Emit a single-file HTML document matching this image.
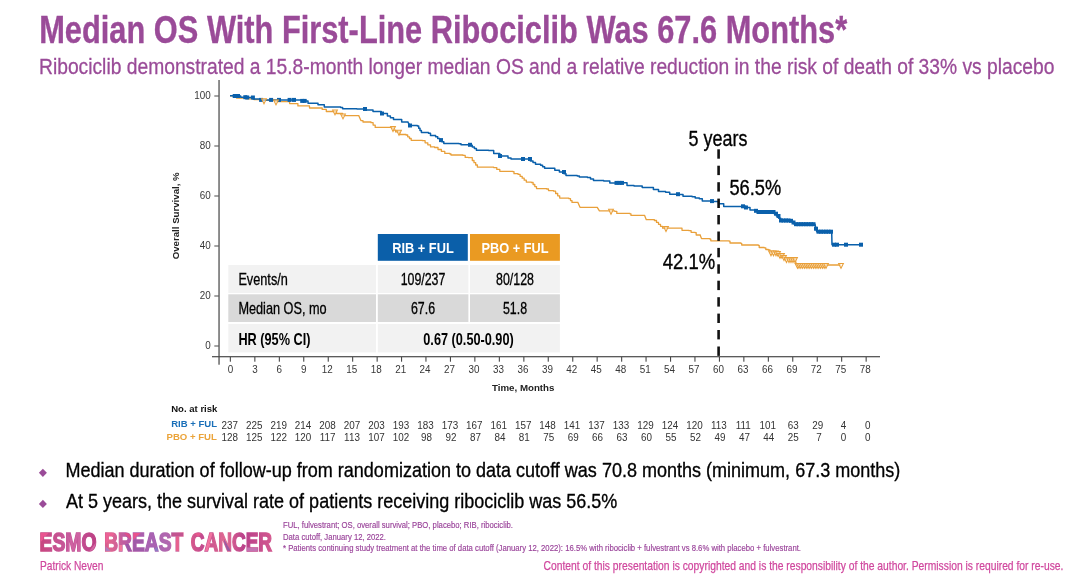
<!DOCTYPE html>
<html><head><meta charset="utf-8"><title>Median OS With First-Line Ribociclib</title>
<style>
html,body{margin:0;padding:0;background:#fff;}
body{width:1080px;height:581px;overflow:hidden;position:relative;font-family:"Liberation Sans",sans-serif;}
svg{display:block;will-change:transform;opacity:0.999}
svg text{font-family:"Liberation Sans",sans-serif;white-space:pre}
</style></head><body>
<svg width="1080" height="581" viewBox="0 0 1080 581" style="position:absolute;left:0;top:0">
<rect x="377.8" y="234" width="90" height="26.8" fill="#0b5fa9"/>
<rect x="470" y="234" width="89.9" height="26.8" fill="#ea9a22"/>
<rect x="228.3" y="265.0" width="147.7" height="28.0" fill="#f2f2f2"/>
<rect x="228.3" y="294.3" width="147.7" height="27.7" fill="#d9d9d9"/>
<rect x="228.3" y="324.0" width="147.7" height="28.4" fill="#f2f2f2"/>
<rect x="377.8" y="265.0" width="90.6" height="28.0" fill="#f2f2f2"/>
<rect x="470" y="265.0" width="89.9" height="28.0" fill="#f2f2f2"/>
<rect x="377.8" y="294.3" width="90.6" height="27.7" fill="#d9d9d9"/>
<rect x="470" y="294.3" width="89.9" height="27.7" fill="#d9d9d9"/>
<rect x="377.8" y="324.0" width="182.1" height="28.4" fill="#f2f2f2"/>
<rect x="218.2" y="80" width="1.7" height="284.7" fill="#7a7a7a"/>
<rect x="212" y="356.1" width="668" height="1.2" fill="#4a4a4a"/>
<rect x="214.3" y="95.5" width="4.5" height="1" fill="#4a4a4a"/>
<rect x="214.3" y="145.5" width="4.5" height="1" fill="#4a4a4a"/>
<rect x="214.3" y="195.5" width="4.5" height="1" fill="#4a4a4a"/>
<rect x="214.3" y="245.5" width="4.5" height="1" fill="#4a4a4a"/>
<rect x="214.3" y="295.5" width="4.5" height="1" fill="#4a4a4a"/>
<rect x="214.3" y="345.5" width="4.5" height="1" fill="#4a4a4a"/>
<rect x="229.8" y="357" width="1.1" height="4.7" fill="#484848"/>
<rect x="254.3" y="357" width="1.1" height="4.7" fill="#484848"/>
<rect x="278.8" y="357" width="1.1" height="4.7" fill="#484848"/>
<rect x="303.2" y="357" width="1.1" height="4.7" fill="#484848"/>
<rect x="327.7" y="357" width="1.1" height="4.7" fill="#484848"/>
<rect x="352.1" y="357" width="1.1" height="4.7" fill="#484848"/>
<rect x="376.6" y="357" width="1.1" height="4.7" fill="#484848"/>
<rect x="401.0" y="357" width="1.1" height="4.7" fill="#484848"/>
<rect x="425.4" y="357" width="1.1" height="4.7" fill="#484848"/>
<rect x="449.9" y="357" width="1.1" height="4.7" fill="#484848"/>
<rect x="474.3" y="357" width="1.1" height="4.7" fill="#484848"/>
<rect x="498.8" y="357" width="1.1" height="4.7" fill="#484848"/>
<rect x="523.3" y="357" width="1.1" height="4.7" fill="#484848"/>
<rect x="547.7" y="357" width="1.1" height="4.7" fill="#484848"/>
<rect x="572.2" y="357" width="1.1" height="4.7" fill="#484848"/>
<rect x="596.6" y="357" width="1.1" height="4.7" fill="#484848"/>
<rect x="621.1" y="357" width="1.1" height="4.7" fill="#484848"/>
<rect x="645.5" y="357" width="1.1" height="4.7" fill="#484848"/>
<rect x="670.0" y="357" width="1.1" height="4.7" fill="#484848"/>
<rect x="694.4" y="357" width="1.1" height="4.7" fill="#484848"/>
<rect x="718.9" y="357" width="1.1" height="4.7" fill="#484848"/>
<rect x="743.3" y="357" width="1.1" height="4.7" fill="#484848"/>
<rect x="767.8" y="357" width="1.1" height="4.7" fill="#484848"/>
<rect x="792.2" y="357" width="1.1" height="4.7" fill="#484848"/>
<rect x="816.7" y="357" width="1.1" height="4.7" fill="#484848"/>
<rect x="841.1" y="357" width="1.1" height="4.7" fill="#484848"/>
<rect x="865.6" y="357" width="1.1" height="4.7" fill="#484848"/>
<path d="M230.0 95.8L236.5 95.8L236.5 98.1L247.0 98.1L247.0 98.8L254.0 98.8L254.0 99.6L261.0 99.6L261.0 100.4L275.4 100.4L275.4 101.6L289.6 101.6L289.6 103.6L297.9 103.6L297.9 105.9L309.5 105.9L309.5 108.0L322.2 108.0L322.2 109.4L326.3 109.4L326.3 111.5L336.5 111.5L336.5 113.5L342.6 113.5L342.6 115.6L358.9 115.6L358.9 116.0L360.9 120.6L363.0 120.6L363.0 122.0L371.0 122.0L371.0 122.7L373.1 122.7L373.1 125.1L375.2 125.1L375.2 127.4L391.5 127.4L391.5 128.2L393.6 128.2L393.6 130.1L395.6 130.1L395.6 131.9L399.6 131.9L399.6 134.5L406.0 134.5L406.0 135.0L407.7 135.0L407.7 136.8L409.5 136.8L409.5 138.5L411.2 138.5L411.2 140.3L422.4 140.3L422.4 140.7L425.1 140.7L425.1 142.8L427.8 142.8L427.8 144.8L430.5 144.8L430.5 146.9L434.6 146.9L434.6 147.5L438.0 147.5L438.0 149.5L441.4 149.5L441.4 151.4L444.8 151.4L444.8 153.4L449.9 153.4L449.9 154.0L451.0 154.0L451.0 155.0L463.0 155.0L463.0 155.4L465.2 155.4L465.2 157.4L468.2 157.4L468.2 157.6L472.3 157.6L472.3 160.5L474.0 160.5L474.0 162.7L475.7 162.7L475.7 165.0L477.4 165.0L477.4 167.2L493.7 167.2L493.7 167.6L496.8 167.6L496.8 169.4L499.8 169.4L499.8 171.3L513.0 171.3L513.0 171.7L514.0 171.7L514.0 173.7L518.1 173.7L518.1 174.4L520.1 174.4L520.1 176.3L522.2 176.3L522.2 178.2L524.2 178.2L524.2 180.2L526.3 180.2L526.3 182.1L531.4 182.1L531.4 182.5L533.1 182.5L533.1 184.5L534.8 184.5L534.8 186.6L536.5 186.6L536.5 188.6L546.7 188.6L546.7 189.0L548.5 189.0L548.5 190.6L553.6 190.6L553.6 191.2L555.6 191.2L555.6 193.5L557.7 193.5L557.7 195.8L559.7 195.8L559.7 198.1L568.9 198.1L568.9 198.7L570.5 198.7L570.5 200.6L572.0 200.6L572.0 202.4L578.0 202.4L578.0 202.8L580.0 207.3L597.4 207.3L597.4 207.7L599.4 210.9L614.7 210.9L614.7 211.3L616.8 211.3L616.8 213.4L630.0 213.4L630.0 213.8L631.0 213.8L631.0 215.4L644.7 215.4L644.7 215.8L646.3 219.7L654.4 219.7L654.4 220.5L656.5 220.5L656.5 222.4L658.5 222.4L658.5 224.3L660.5 224.3L660.5 226.3L662.6 226.3L662.6 228.2L680.9 228.2L680.9 228.2L682.0 228.2L682.0 230.3L689.0 230.3L689.0 230.7L691.1 230.7L691.1 232.3L695.2 232.3L695.2 232.7L696.2 232.7L696.2 235.0L700.3 235.0L700.3 235.4L701.5 238.6L710.0 238.6L710.0 239.2L710.8 239.2L710.8 240.8L729.2 240.8L729.2 241.2L730.0 241.2L730.0 243.0L740.8 243.0L740.8 243.3L741.7 243.3L741.7 245.0L758.3 245.0L758.3 245.3L759.2 245.3L759.2 247.5L764.2 247.5L764.2 247.8L765.8 247.8L765.8 249.5L768.3 249.5L768.3 250.0L770.0 250.0L770.0 252.5L776.7 252.5L776.7 253.0L779.2 253.0L779.2 255.0L783.3 255.0L783.3 255.8L785.0 259.2L795.0 259.2L795.0 259.7L796.7 265.0L840.8 265.0L840.8 265.0" fill="none" stroke="#e9a03a" stroke-width="1.3" stroke-linejoin="round"/>
<path d="M230.0 95.8L233.0 95.8L233.0 96.0L240.7 96.0L240.7 97.2L246.0 97.2L246.0 97.5L253.0 97.5L253.0 98.9L261.0 98.9L261.0 99.9L289.6 99.9L289.6 99.9L301.9 99.9L301.9 100.9L308.0 100.9L308.0 103.3L318.0 103.3L318.0 104.8L324.3 104.8L324.3 107.0L340.6 107.0L340.6 107.4L342.6 107.4L342.6 108.8L356.9 108.8L356.9 109.0L365.0 109.0L365.0 110.0L373.0 110.0L373.0 111.5L381.3 111.5L381.3 113.5L387.4 113.5L387.4 116.0L390.4 116.0L390.4 117.8L393.5 117.8L393.5 119.6L401.7 119.6L401.7 122.0L408.0 122.0L408.0 122.4L410.0 125.5L417.3 125.5L417.3 126.0L418.7 126.0L418.7 128.2L420.0 128.2L420.0 130.4L421.4 130.4L421.4 132.6L428.5 132.6L428.5 133.2L430.5 133.2L430.5 135.6L435.6 135.6L435.6 136.7L437.7 136.7L437.7 138.4L439.7 138.4L439.7 140.1L441.8 140.1L441.8 141.8L443.8 141.8L443.8 143.4L459.0 143.4L459.0 143.8L461.0 143.8L461.0 144.8L470.3 144.8L470.3 145.2L472.3 145.2L472.3 146.9L474.4 146.9L474.4 148.6L476.4 148.6L476.4 150.3L488.6 150.3L488.6 150.5L493.7 150.5L493.7 153.4L499.8 153.4L499.8 156.0L508.0 156.0L508.0 158.0L511.0 158.0L511.0 159.0L523.2 159.0L523.2 159.0L530.4 159.0L530.4 161.0L533.0 161.0L533.0 162.6L535.5 162.6L535.5 164.2L540.6 164.2L540.6 165.2L542.6 165.2L542.6 166.7L544.6 166.7L544.6 168.2L554.8 168.2L554.8 170.3L559.4 170.3L559.4 172.0L564.0 172.0L564.0 173.7L566.0 173.7L566.0 175.4L577.2 175.4L577.2 176.0L579.3 176.0L579.3 177.0L587.4 177.0L587.4 177.4L590.5 177.4L590.5 178.9L593.5 178.9L593.5 180.5L603.7 180.5L603.7 180.9L609.8 180.9L609.8 182.9L623.9 182.9L623.9 182.8L627.0 182.8L627.0 185.5L634.0 185.5L634.0 186.0L642.2 186.0L642.2 187.5L653.4 187.5L653.4 189.5L658.5 189.5L658.5 191.6L665.6 191.6L665.6 192.2L669.7 192.2L669.7 194.2L678.9 194.2L678.9 194.6L683.0 194.6L683.0 196.3L692.1 196.3L692.1 196.7L695.2 196.7L695.2 198.1L699.3 198.1L699.3 198.7L702.3 198.7L702.3 201.1L712.5 201.1L712.5 201.4L718.6 201.4L718.6 203.8L723.7 203.8L723.7 206.4L742.5 206.4L742.5 206.3L745.8 206.3L745.8 207.5L750.0 207.5L750.0 210.0L755.8 210.0L755.8 210.8L758.3 210.8L758.3 212.0L772.5 212.0L772.5 212.0L774.2 212.0L774.2 213.7L776.4 213.7L776.4 216.0L778.6 216.0L778.6 218.2L780.8 218.2L780.8 220.5L790.8 220.5L790.8 220.8L792.5 220.8L792.5 222.5L794.2 222.5L794.2 224.2L815.0 224.2L815.0 224.5L816.7 231.7L831.7 231.7L831.7 232.0L832.0 244.7L860.8 244.7L860.8 244.7" fill="none" stroke="#0a60ab" stroke-width="1.5" stroke-linejoin="round"/>
<rect x="232.7" y="94.0" width="4" height="4" fill="#0a60ab"/>
<rect x="236.0" y="94.0" width="4" height="4" fill="#0a60ab"/>
<rect x="243.3" y="95.2" width="4" height="4" fill="#0a60ab"/>
<rect x="245.2" y="95.5" width="4" height="4" fill="#0a60ab"/>
<rect x="250.9" y="95.5" width="4" height="4" fill="#0a60ab"/>
<rect x="259.1" y="97.9" width="4" height="4" fill="#0a60ab"/>
<rect x="269.1" y="97.9" width="4" height="4" fill="#0a60ab"/>
<rect x="277.0" y="97.9" width="4" height="4" fill="#0a60ab"/>
<rect x="287.6" y="97.9" width="4" height="4" fill="#0a60ab"/>
<rect x="292.0" y="97.9" width="4" height="4" fill="#0a60ab"/>
<rect x="300.2" y="98.9" width="4" height="4" fill="#0a60ab"/>
<rect x="302.7" y="98.9" width="4" height="4" fill="#0a60ab"/>
<rect x="363.0" y="107.0" width="4" height="4" fill="#0a60ab"/>
<rect x="380.0" y="111.5" width="4" height="4" fill="#0a60ab"/>
<rect x="408.0" y="123.5" width="4" height="4" fill="#0a60ab"/>
<rect x="439.0" y="138.1" width="4" height="4" fill="#0a60ab"/>
<rect x="468.0" y="142.8" width="4" height="4" fill="#0a60ab"/>
<rect x="498.0" y="154.0" width="4" height="4" fill="#0a60ab"/>
<rect x="521.0" y="157.0" width="4" height="4" fill="#0a60ab"/>
<rect x="528.0" y="157.0" width="4" height="4" fill="#0a60ab"/>
<rect x="562.0" y="170.0" width="4" height="4" fill="#0a60ab"/>
<rect x="614.5" y="180.9" width="4" height="4" fill="#0a60ab"/>
<rect x="617.5" y="180.9" width="4" height="4" fill="#0a60ab"/>
<rect x="620.0" y="180.9" width="4" height="4" fill="#0a60ab"/>
<rect x="676.0" y="192.2" width="4" height="4" fill="#0a60ab"/>
<rect x="710.0" y="199.1" width="4" height="4" fill="#0a60ab"/>
<rect x="741.0" y="204.3" width="4" height="4" fill="#0a60ab"/>
<rect x="744.0" y="205.5" width="4" height="4" fill="#0a60ab"/>
<rect x="754.0" y="208.8" width="4" height="4" fill="#0a60ab"/>
<rect x="756.5" y="210.0" width="4" height="4" fill="#0a60ab"/>
<rect x="759.0" y="210.0" width="4" height="4" fill="#0a60ab"/>
<rect x="761.5" y="210.0" width="4" height="4" fill="#0a60ab"/>
<rect x="764.0" y="210.0" width="4" height="4" fill="#0a60ab"/>
<rect x="766.5" y="210.0" width="4" height="4" fill="#0a60ab"/>
<rect x="769.0" y="210.0" width="4" height="4" fill="#0a60ab"/>
<rect x="771.5" y="210.0" width="4" height="4" fill="#0a60ab"/>
<rect x="774.0" y="211.7" width="4" height="4" fill="#0a60ab"/>
<rect x="776.5" y="214.0" width="4" height="4" fill="#0a60ab"/>
<rect x="779.0" y="218.5" width="4" height="4" fill="#0a60ab"/>
<rect x="781.5" y="218.5" width="4" height="4" fill="#0a60ab"/>
<rect x="784.0" y="218.5" width="4" height="4" fill="#0a60ab"/>
<rect x="786.5" y="218.5" width="4" height="4" fill="#0a60ab"/>
<rect x="789.0" y="218.8" width="4" height="4" fill="#0a60ab"/>
<rect x="791.5" y="220.5" width="4" height="4" fill="#0a60ab"/>
<rect x="794.0" y="222.2" width="4" height="4" fill="#0a60ab"/>
<rect x="796.5" y="222.2" width="4" height="4" fill="#0a60ab"/>
<rect x="799.0" y="222.2" width="4" height="4" fill="#0a60ab"/>
<rect x="801.5" y="222.2" width="4" height="4" fill="#0a60ab"/>
<rect x="804.0" y="222.2" width="4" height="4" fill="#0a60ab"/>
<rect x="806.5" y="222.2" width="4" height="4" fill="#0a60ab"/>
<rect x="809.0" y="222.2" width="4" height="4" fill="#0a60ab"/>
<rect x="811.5" y="222.2" width="4" height="4" fill="#0a60ab"/>
<rect x="814.0" y="226.7" width="4" height="4" fill="#0a60ab"/>
<rect x="816.5" y="229.7" width="4" height="4" fill="#0a60ab"/>
<rect x="819.0" y="229.7" width="4" height="4" fill="#0a60ab"/>
<rect x="821.5" y="229.7" width="4" height="4" fill="#0a60ab"/>
<rect x="824.0" y="229.7" width="4" height="4" fill="#0a60ab"/>
<rect x="826.5" y="229.7" width="4" height="4" fill="#0a60ab"/>
<rect x="829.0" y="229.7" width="4" height="4" fill="#0a60ab"/>
<rect x="832.0" y="242.7" width="4" height="4" fill="#0a60ab"/>
<rect x="835.0" y="242.7" width="4" height="4" fill="#0a60ab"/>
<rect x="844.0" y="242.7" width="4" height="4" fill="#0a60ab"/>
<rect x="859.0" y="242.7" width="4" height="4" fill="#0a60ab"/>
<path d="M261.6 98.8h4.8l-2.4 4.9z" fill="#fff" fill-opacity="0.55" stroke="#e9a03a" stroke-width="1.05"/>
<path d="M273.6 100.0h4.8l-2.4 4.9z" fill="#fff" fill-opacity="0.55" stroke="#e9a03a" stroke-width="1.05"/>
<path d="M332.6 109.9h4.8l-2.4 4.9z" fill="#fff" fill-opacity="0.55" stroke="#e9a03a" stroke-width="1.05"/>
<path d="M340.6 114.0h4.8l-2.4 4.9z" fill="#fff" fill-opacity="0.55" stroke="#e9a03a" stroke-width="1.05"/>
<path d="M390.6 126.6h4.8l-2.4 4.9z" fill="#fff" fill-opacity="0.55" stroke="#e9a03a" stroke-width="1.05"/>
<path d="M396.6 130.3h4.8l-2.4 4.9z" fill="#fff" fill-opacity="0.55" stroke="#e9a03a" stroke-width="1.05"/>
<path d="M608.6 209.3h4.8l-2.4 4.9z" fill="#fff" fill-opacity="0.55" stroke="#e9a03a" stroke-width="1.05"/>
<path d="M663.6 226.6h4.8l-2.4 4.9z" fill="#fff" fill-opacity="0.55" stroke="#e9a03a" stroke-width="1.05"/>
<path d="M768.6 250.9h4.8l-2.4 4.9z" fill="#fff" fill-opacity="0.55" stroke="#e9a03a" stroke-width="1.05"/>
<path d="M771.1 250.9h4.8l-2.4 4.9z" fill="#fff" fill-opacity="0.55" stroke="#e9a03a" stroke-width="1.05"/>
<path d="M773.6 250.9h4.8l-2.4 4.9z" fill="#fff" fill-opacity="0.55" stroke="#e9a03a" stroke-width="1.05"/>
<path d="M775.6 251.4h4.8l-2.4 4.9z" fill="#fff" fill-opacity="0.55" stroke="#e9a03a" stroke-width="1.05"/>
<path d="M777.6 253.4h4.8l-2.4 4.9z" fill="#fff" fill-opacity="0.55" stroke="#e9a03a" stroke-width="1.05"/>
<path d="M779.6 253.4h4.8l-2.4 4.9z" fill="#fff" fill-opacity="0.55" stroke="#e9a03a" stroke-width="1.05"/>
<path d="M781.6 255.6h4.8l-2.4 4.9z" fill="#fff" fill-opacity="0.55" stroke="#e9a03a" stroke-width="1.05"/>
<path d="M784.1 257.6h4.8l-2.4 4.9z" fill="#fff" fill-opacity="0.55" stroke="#e9a03a" stroke-width="1.05"/>
<path d="M786.6 257.6h4.8l-2.4 4.9z" fill="#fff" fill-opacity="0.55" stroke="#e9a03a" stroke-width="1.05"/>
<path d="M788.6 257.6h4.8l-2.4 4.9z" fill="#fff" fill-opacity="0.55" stroke="#e9a03a" stroke-width="1.05"/>
<path d="M790.6 257.6h4.8l-2.4 4.9z" fill="#fff" fill-opacity="0.55" stroke="#e9a03a" stroke-width="1.05"/>
<path d="M792.6 257.6h4.8l-2.4 4.9z" fill="#fff" fill-opacity="0.55" stroke="#e9a03a" stroke-width="1.05"/>
<path d="M795.1 263.4h4.8l-2.4 4.9z" fill="#fff" fill-opacity="0.55" stroke="#e9a03a" stroke-width="1.05"/>
<path d="M796.6 263.4h4.8l-2.4 4.9z" fill="#fff" fill-opacity="0.55" stroke="#e9a03a" stroke-width="1.05"/>
<path d="M798.4 263.4h4.8l-2.4 4.9z" fill="#fff" fill-opacity="0.55" stroke="#e9a03a" stroke-width="1.05"/>
<path d="M800.2 263.4h4.8l-2.4 4.9z" fill="#fff" fill-opacity="0.55" stroke="#e9a03a" stroke-width="1.05"/>
<path d="M802.0 263.4h4.8l-2.4 4.9z" fill="#fff" fill-opacity="0.55" stroke="#e9a03a" stroke-width="1.05"/>
<path d="M803.8 263.4h4.8l-2.4 4.9z" fill="#fff" fill-opacity="0.55" stroke="#e9a03a" stroke-width="1.05"/>
<path d="M805.6 263.4h4.8l-2.4 4.9z" fill="#fff" fill-opacity="0.55" stroke="#e9a03a" stroke-width="1.05"/>
<path d="M807.4 263.4h4.8l-2.4 4.9z" fill="#fff" fill-opacity="0.55" stroke="#e9a03a" stroke-width="1.05"/>
<path d="M809.2 263.4h4.8l-2.4 4.9z" fill="#fff" fill-opacity="0.55" stroke="#e9a03a" stroke-width="1.05"/>
<path d="M811.0 263.4h4.8l-2.4 4.9z" fill="#fff" fill-opacity="0.55" stroke="#e9a03a" stroke-width="1.05"/>
<path d="M812.8 263.4h4.8l-2.4 4.9z" fill="#fff" fill-opacity="0.55" stroke="#e9a03a" stroke-width="1.05"/>
<path d="M814.6 263.4h4.8l-2.4 4.9z" fill="#fff" fill-opacity="0.55" stroke="#e9a03a" stroke-width="1.05"/>
<path d="M816.4 263.4h4.8l-2.4 4.9z" fill="#fff" fill-opacity="0.55" stroke="#e9a03a" stroke-width="1.05"/>
<path d="M818.2 263.4h4.8l-2.4 4.9z" fill="#fff" fill-opacity="0.55" stroke="#e9a03a" stroke-width="1.05"/>
<path d="M820.0 263.4h4.8l-2.4 4.9z" fill="#fff" fill-opacity="0.55" stroke="#e9a03a" stroke-width="1.05"/>
<path d="M821.8 263.4h4.8l-2.4 4.9z" fill="#fff" fill-opacity="0.55" stroke="#e9a03a" stroke-width="1.05"/>
<path d="M823.6 263.4h4.8l-2.4 4.9z" fill="#fff" fill-opacity="0.55" stroke="#e9a03a" stroke-width="1.05"/>
<path d="M838.6 263.4h4.8l-2.4 4.9z" fill="#fff" fill-opacity="0.55" stroke="#e9a03a" stroke-width="1.05"/>
<rect x="717.3" y="149.3" width="2.6" height="9.4" fill="#111"/>
<rect x="717.3" y="165.7" width="2.6" height="9.4" fill="#111"/>
<rect x="717.3" y="182.2" width="2.6" height="9.4" fill="#111"/>
<rect x="717.3" y="198.6" width="2.6" height="9.4" fill="#111"/>
<rect x="717.3" y="215.0" width="2.6" height="9.4" fill="#111"/>
<rect x="717.3" y="231.5" width="2.6" height="9.4" fill="#111"/>
<rect x="717.3" y="247.9" width="2.6" height="9.4" fill="#111"/>
<rect x="717.3" y="264.3" width="2.6" height="9.4" fill="#111"/>
<rect x="717.3" y="280.7" width="2.6" height="9.4" fill="#111"/>
<rect x="717.3" y="297.2" width="2.6" height="9.4" fill="#111"/>
<rect x="717.3" y="313.6" width="2.6" height="9.4" fill="#111"/>
<rect x="717.3" y="330.0" width="2.6" height="9.4" fill="#111"/>
<rect x="717.3" y="346.5" width="2.6" height="9.4" fill="#111"/>

<defs><linearGradient id="lg" x1="40" y1="0" x2="272" y2="0" gradientUnits="userSpaceOnUse">
<stop offset="0" stop-color="#c8457f"/><stop offset="0.12" stop-color="#c65a9c"/><stop offset="0.24" stop-color="#bd3f84"/>
<stop offset="0.30" stop-color="#e0668f"/><stop offset="0.38" stop-color="#b65aa6"/><stop offset="0.50" stop-color="#9f63b4"/>
<stop offset="0.58" stop-color="#c873a8"/><stop offset="0.63" stop-color="#e0608c"/><stop offset="0.70" stop-color="#c24a8e"/>
<stop offset="0.80" stop-color="#e06a92"/><stop offset="0.88" stop-color="#b9408a"/><stop offset="1" stop-color="#d2588f"/>
</linearGradient></defs>
<text x="39.2" y="43.0" textLength="808.0" lengthAdjust="spacingAndGlyphs" font-size="37.9" font-weight="700" fill="#9a4b98" stroke="#9a4b98" stroke-width="0.35">Median OS With First-Line Ribociclib Was 67.6 Months*</text>
<text x="39.0" y="73.5" textLength="1015.5" lengthAdjust="spacingAndGlyphs" font-size="22.0" font-weight="400" fill="#9a4b98" stroke="#9a4b98" stroke-width="0.3">Ribociclib demonstrated a 15.8-month longer median OS and a relative reduction in the risk of death of 33% vs placebo</text>
<text transform="translate(210.8 99.1) scale(0.97 1)" text-anchor="end" font-size="10.2" font-weight="400" fill="#383838">100</text>
<text transform="translate(210.8 149.1) scale(0.97 1)" text-anchor="end" font-size="10.2" font-weight="400" fill="#383838">80</text>
<text transform="translate(210.8 199.1) scale(0.97 1)" text-anchor="end" font-size="10.2" font-weight="400" fill="#383838">60</text>
<text transform="translate(210.8 249.1) scale(0.97 1)" text-anchor="end" font-size="10.2" font-weight="400" fill="#383838">40</text>
<text transform="translate(210.8 299.1) scale(0.97 1)" text-anchor="end" font-size="10.2" font-weight="400" fill="#383838">20</text>
<text transform="translate(210.8 349.1) scale(0.97 1)" text-anchor="end" font-size="10.2" font-weight="400" fill="#383838">0</text>
<text transform="translate(230.4 372.8) scale(0.97 1)" text-anchor="middle" font-size="10.2" font-weight="400" fill="#383838">0</text>
<text transform="translate(254.9 372.8) scale(0.97 1)" text-anchor="middle" font-size="10.2" font-weight="400" fill="#383838">3</text>
<text transform="translate(279.3 372.8) scale(0.97 1)" text-anchor="middle" font-size="10.2" font-weight="400" fill="#383838">6</text>
<text transform="translate(303.8 372.8) scale(0.97 1)" text-anchor="middle" font-size="10.2" font-weight="400" fill="#383838">9</text>
<text transform="translate(327.3 372.8) scale(0.97 1)" text-anchor="middle" font-size="10.2" font-weight="400" fill="#383838">12</text>
<text transform="translate(351.8 372.8) scale(0.97 1)" text-anchor="middle" font-size="10.2" font-weight="400" fill="#383838">15</text>
<text transform="translate(376.2 372.8) scale(0.97 1)" text-anchor="middle" font-size="10.2" font-weight="400" fill="#383838">18</text>
<text transform="translate(400.7 372.8) scale(0.97 1)" text-anchor="middle" font-size="10.2" font-weight="400" fill="#383838">21</text>
<text transform="translate(425.1 372.8) scale(0.97 1)" text-anchor="middle" font-size="10.2" font-weight="400" fill="#383838">24</text>
<text transform="translate(449.6 372.8) scale(0.97 1)" text-anchor="middle" font-size="10.2" font-weight="400" fill="#383838">27</text>
<text transform="translate(474.0 372.8) scale(0.97 1)" text-anchor="middle" font-size="10.2" font-weight="400" fill="#383838">30</text>
<text transform="translate(498.5 372.8) scale(0.97 1)" text-anchor="middle" font-size="10.2" font-weight="400" fill="#383838">33</text>
<text transform="translate(522.9 372.8) scale(0.97 1)" text-anchor="middle" font-size="10.2" font-weight="400" fill="#383838">36</text>
<text transform="translate(547.4 372.8) scale(0.97 1)" text-anchor="middle" font-size="10.2" font-weight="400" fill="#383838">39</text>
<text transform="translate(571.8 372.8) scale(0.97 1)" text-anchor="middle" font-size="10.2" font-weight="400" fill="#383838">42</text>
<text transform="translate(596.2 372.8) scale(0.97 1)" text-anchor="middle" font-size="10.2" font-weight="400" fill="#383838">45</text>
<text transform="translate(620.7 372.8) scale(0.97 1)" text-anchor="middle" font-size="10.2" font-weight="400" fill="#383838">48</text>
<text transform="translate(645.2 372.8) scale(0.97 1)" text-anchor="middle" font-size="10.2" font-weight="400" fill="#383838">51</text>
<text transform="translate(669.6 372.8) scale(0.97 1)" text-anchor="middle" font-size="10.2" font-weight="400" fill="#383838">54</text>
<text transform="translate(694.1 372.8) scale(0.97 1)" text-anchor="middle" font-size="10.2" font-weight="400" fill="#383838">57</text>
<text transform="translate(718.5 372.8) scale(0.97 1)" text-anchor="middle" font-size="10.2" font-weight="400" fill="#383838">60</text>
<text transform="translate(743.0 372.8) scale(0.97 1)" text-anchor="middle" font-size="10.2" font-weight="400" fill="#383838">63</text>
<text transform="translate(767.4 372.8) scale(0.97 1)" text-anchor="middle" font-size="10.2" font-weight="400" fill="#383838">66</text>
<text transform="translate(791.9 372.8) scale(0.97 1)" text-anchor="middle" font-size="10.2" font-weight="400" fill="#383838">69</text>
<text transform="translate(816.3 372.8) scale(0.97 1)" text-anchor="middle" font-size="10.2" font-weight="400" fill="#383838">72</text>
<text transform="translate(840.8 372.8) scale(0.97 1)" text-anchor="middle" font-size="10.2" font-weight="400" fill="#383838">75</text>
<text transform="translate(865.2 372.8) scale(0.97 1)" text-anchor="middle" font-size="10.2" font-weight="400" fill="#383838">78</text>
<text transform="translate(229.8 428.8) scale(0.97 1)" text-anchor="middle" font-size="10.2" font-weight="400" fill="#333">237</text>
<text transform="translate(229.8 440.8) scale(0.97 1)" text-anchor="middle" font-size="10.2" font-weight="400" fill="#333">128</text>
<text transform="translate(254.3 428.8) scale(0.97 1)" text-anchor="middle" font-size="10.2" font-weight="400" fill="#333">225</text>
<text transform="translate(254.3 440.8) scale(0.97 1)" text-anchor="middle" font-size="10.2" font-weight="400" fill="#333">125</text>
<text transform="translate(278.7 428.8) scale(0.97 1)" text-anchor="middle" font-size="10.2" font-weight="400" fill="#333">219</text>
<text transform="translate(278.7 440.8) scale(0.97 1)" text-anchor="middle" font-size="10.2" font-weight="400" fill="#333">122</text>
<text transform="translate(303.1 428.8) scale(0.97 1)" text-anchor="middle" font-size="10.2" font-weight="400" fill="#333">214</text>
<text transform="translate(303.1 440.8) scale(0.97 1)" text-anchor="middle" font-size="10.2" font-weight="400" fill="#333">120</text>
<text transform="translate(327.6 428.8) scale(0.97 1)" text-anchor="middle" font-size="10.2" font-weight="400" fill="#333">208</text>
<text transform="translate(327.6 440.8) scale(0.97 1)" text-anchor="middle" font-size="10.2" font-weight="400" fill="#333">117</text>
<text transform="translate(352.0 428.8) scale(0.97 1)" text-anchor="middle" font-size="10.2" font-weight="400" fill="#333">207</text>
<text transform="translate(352.0 440.8) scale(0.97 1)" text-anchor="middle" font-size="10.2" font-weight="400" fill="#333">113</text>
<text transform="translate(376.5 428.8) scale(0.97 1)" text-anchor="middle" font-size="10.2" font-weight="400" fill="#333">203</text>
<text transform="translate(376.5 440.8) scale(0.97 1)" text-anchor="middle" font-size="10.2" font-weight="400" fill="#333">107</text>
<text transform="translate(400.9 428.8) scale(0.97 1)" text-anchor="middle" font-size="10.2" font-weight="400" fill="#333">193</text>
<text transform="translate(400.9 440.8) scale(0.97 1)" text-anchor="middle" font-size="10.2" font-weight="400" fill="#333">102</text>
<text transform="translate(425.4 428.8) scale(0.97 1)" text-anchor="middle" font-size="10.2" font-weight="400" fill="#333">183</text>
<text transform="translate(426.5 440.8) scale(0.97 1)" text-anchor="middle" font-size="10.2" font-weight="400" fill="#333">98</text>
<text transform="translate(449.9 428.8) scale(0.97 1)" text-anchor="middle" font-size="10.2" font-weight="400" fill="#333">173</text>
<text transform="translate(451.0 440.8) scale(0.97 1)" text-anchor="middle" font-size="10.2" font-weight="400" fill="#333">92</text>
<text transform="translate(474.3 428.8) scale(0.97 1)" text-anchor="middle" font-size="10.2" font-weight="400" fill="#333">167</text>
<text transform="translate(475.4 440.8) scale(0.97 1)" text-anchor="middle" font-size="10.2" font-weight="400" fill="#333">87</text>
<text transform="translate(498.8 428.8) scale(0.97 1)" text-anchor="middle" font-size="10.2" font-weight="400" fill="#333">161</text>
<text transform="translate(499.9 440.8) scale(0.97 1)" text-anchor="middle" font-size="10.2" font-weight="400" fill="#333">84</text>
<text transform="translate(523.2 428.8) scale(0.97 1)" text-anchor="middle" font-size="10.2" font-weight="400" fill="#333">157</text>
<text transform="translate(524.3 440.8) scale(0.97 1)" text-anchor="middle" font-size="10.2" font-weight="400" fill="#333">81</text>
<text transform="translate(547.6 428.8) scale(0.97 1)" text-anchor="middle" font-size="10.2" font-weight="400" fill="#333">148</text>
<text transform="translate(548.8 440.8) scale(0.97 1)" text-anchor="middle" font-size="10.2" font-weight="400" fill="#333">75</text>
<text transform="translate(572.1 428.8) scale(0.97 1)" text-anchor="middle" font-size="10.2" font-weight="400" fill="#333">141</text>
<text transform="translate(573.2 440.8) scale(0.97 1)" text-anchor="middle" font-size="10.2" font-weight="400" fill="#333">69</text>
<text transform="translate(596.5 428.8) scale(0.97 1)" text-anchor="middle" font-size="10.2" font-weight="400" fill="#333">137</text>
<text transform="translate(597.6 440.8) scale(0.97 1)" text-anchor="middle" font-size="10.2" font-weight="400" fill="#333">66</text>
<text transform="translate(621.0 428.8) scale(0.97 1)" text-anchor="middle" font-size="10.2" font-weight="400" fill="#333">133</text>
<text transform="translate(622.1 440.8) scale(0.97 1)" text-anchor="middle" font-size="10.2" font-weight="400" fill="#333">63</text>
<text transform="translate(645.5 428.8) scale(0.97 1)" text-anchor="middle" font-size="10.2" font-weight="400" fill="#333">129</text>
<text transform="translate(646.6 440.8) scale(0.97 1)" text-anchor="middle" font-size="10.2" font-weight="400" fill="#333">60</text>
<text transform="translate(669.9 428.8) scale(0.97 1)" text-anchor="middle" font-size="10.2" font-weight="400" fill="#333">124</text>
<text transform="translate(671.0 440.8) scale(0.97 1)" text-anchor="middle" font-size="10.2" font-weight="400" fill="#333">55</text>
<text transform="translate(694.4 428.8) scale(0.97 1)" text-anchor="middle" font-size="10.2" font-weight="400" fill="#333">120</text>
<text transform="translate(695.5 440.8) scale(0.97 1)" text-anchor="middle" font-size="10.2" font-weight="400" fill="#333">52</text>
<text transform="translate(718.8 428.8) scale(0.97 1)" text-anchor="middle" font-size="10.2" font-weight="400" fill="#333">113</text>
<text transform="translate(719.9 440.8) scale(0.97 1)" text-anchor="middle" font-size="10.2" font-weight="400" fill="#333">49</text>
<text transform="translate(743.2 428.8) scale(0.97 1)" text-anchor="middle" font-size="10.2" font-weight="400" fill="#333">111</text>
<text transform="translate(744.4 440.8) scale(0.97 1)" text-anchor="middle" font-size="10.2" font-weight="400" fill="#333">47</text>
<text transform="translate(767.7 428.8) scale(0.97 1)" text-anchor="middle" font-size="10.2" font-weight="400" fill="#333">101</text>
<text transform="translate(768.8 440.8) scale(0.97 1)" text-anchor="middle" font-size="10.2" font-weight="400" fill="#333">44</text>
<text transform="translate(793.2 428.8) scale(0.97 1)" text-anchor="middle" font-size="10.2" font-weight="400" fill="#333">63</text>
<text transform="translate(793.2 440.8) scale(0.97 1)" text-anchor="middle" font-size="10.2" font-weight="400" fill="#333">25</text>
<text transform="translate(817.7 428.8) scale(0.97 1)" text-anchor="middle" font-size="10.2" font-weight="400" fill="#333">29</text>
<text transform="translate(818.9 440.8) scale(0.97 1)" text-anchor="middle" font-size="10.2" font-weight="400" fill="#333">7</text>
<text transform="translate(843.4 428.8) scale(0.97 1)" text-anchor="middle" font-size="10.2" font-weight="400" fill="#333">4</text>
<text transform="translate(843.4 440.8) scale(0.97 1)" text-anchor="middle" font-size="10.2" font-weight="400" fill="#333">0</text>
<text transform="translate(867.8 428.8) scale(0.97 1)" text-anchor="middle" font-size="10.2" font-weight="400" fill="#333">0</text>
<text transform="translate(867.8 440.8) scale(0.97 1)" text-anchor="middle" font-size="10.2" font-weight="400" fill="#333">0</text>
<text x="492.0" y="390.6" textLength="62.4" lengthAdjust="spacingAndGlyphs" font-size="9.0" font-weight="700" fill="#222">Time, Months</text>
<text x="171.2" y="412.0" textLength="46.2" lengthAdjust="spacingAndGlyphs" font-size="9.0" font-weight="700" fill="#111">No. at risk</text>
<text x="171.2" y="426.5" textLength="45.8" lengthAdjust="spacingAndGlyphs" font-size="9.0" font-weight="700" fill="#1a6fb8">RIB + FUL</text>
<text x="166.5" y="439.6" textLength="50.3" lengthAdjust="spacingAndGlyphs" font-size="9.0" font-weight="700" fill="#eba43a">PBO + FUL</text>
<text transform="translate(423.0 253.0) scale(0.865 1)" text-anchor="middle" font-size="14.8" font-weight="700" fill="#fff">RIB + FUL</text>
<text transform="translate(515.0 253.0) scale(0.865 1)" text-anchor="middle" font-size="14.8" font-weight="700" fill="#fff">PBO + FUL</text>
<text transform="translate(238.4 284.8) scale(0.785 1)" font-size="16.2" font-weight="400" fill="#000" stroke="#000" stroke-width="0.3">Events/n</text>
<text transform="translate(238.4 314.0) scale(0.785 1)" font-size="16.2" font-weight="400" fill="#000" stroke="#000" stroke-width="0.3">Median OS, mo</text>
<text transform="translate(238.4 344.7) scale(0.785 1)" font-size="16.2" font-weight="700" fill="#000">HR (95% CI)</text>
<text transform="translate(423.0 284.8) scale(0.765 1)" text-anchor="middle" font-size="16.2" font-weight="400" fill="#000" stroke="#000" stroke-width="0.3">109/237</text>
<text transform="translate(515.0 284.8) scale(0.765 1)" text-anchor="middle" font-size="16.2" font-weight="400" fill="#000" stroke="#000" stroke-width="0.3">80/128</text>
<text transform="translate(423.0 314.0) scale(0.765 1)" text-anchor="middle" font-size="16.2" font-weight="400" fill="#000" stroke="#000" stroke-width="0.3">67.6</text>
<text transform="translate(515.0 314.0) scale(0.765 1)" text-anchor="middle" font-size="16.2" font-weight="400" fill="#000" stroke="#000" stroke-width="0.3">51.8</text>
<text transform="translate(468.5 344.7) scale(0.785 1)" text-anchor="middle" font-size="16.2" font-weight="700" fill="#000">0.67 (0.50-0.90)</text>
<text x="688.6" y="145.8" textLength="58.8" lengthAdjust="spacingAndGlyphs" font-size="21.8" font-weight="400" fill="#000" stroke="#000" stroke-width="0.35">5 years</text>
<text x="729.4" y="195.2" textLength="51.8" lengthAdjust="spacingAndGlyphs" font-size="21.4" font-weight="400" fill="#000" stroke="#000" stroke-width="0.35">56.5%</text>
<text x="662.8" y="268.6" textLength="52.4" lengthAdjust="spacingAndGlyphs" font-size="21.4" font-weight="400" fill="#000" stroke="#000" stroke-width="0.35">42.1%</text>
<text x="65.4" y="476.6" textLength="834.9" lengthAdjust="spacingAndGlyphs" font-size="21.0" font-weight="400" fill="#000" stroke="#000" stroke-width="0.35">Median duration of follow-up from randomization to data cutoff was 70.8 months (minimum, 67.3 months)</text>
<text x="66.0" y="507.6" textLength="551.3" lengthAdjust="spacingAndGlyphs" font-size="21.0" font-weight="400" fill="#000" stroke="#000" stroke-width="0.35">At 5 years, the survival rate of patients receiving ribociclib was 56.5%</text>
<text x="283.0" y="528.0" textLength="230.0" lengthAdjust="spacingAndGlyphs" font-size="9.4" font-weight="400" fill="#9a449a" stroke="#9a449a" stroke-width="0.18">FUL, fulvestrant; OS, overall survival; PBO, placebo; RIB, ribociclib.</text>
<text x="283.0" y="539.6" textLength="103.0" lengthAdjust="spacingAndGlyphs" font-size="9.4" font-weight="400" fill="#9a449a" stroke="#9a449a" stroke-width="0.18">Data cutoff, January 12, 2022.</text>
<text x="283.0" y="550.8" textLength="518.0" lengthAdjust="spacingAndGlyphs" font-size="9.4" font-weight="400" fill="#9a449a" stroke="#9a449a" stroke-width="0.18">* Patients continuing study treatment at the time of data cutoff (January 12, 2022): 16.5% with ribociclib + fulvestrant vs 8.6% with placebo + fulvestrant.</text>
<text x="40.0" y="570.2" textLength="63.4" lengthAdjust="spacingAndGlyphs" font-size="13" font-weight="400" fill="#d0489e" stroke="#d0489e" stroke-width="0.25">Patrick Neven</text>
<text x="543.6" y="570.2" textLength="519.8" lengthAdjust="spacingAndGlyphs" font-size="13" font-weight="400" fill="#d0489e" stroke="#d0489e" stroke-width="0.25">Content of this presentation is copyrighted and is the responsibility of the author. Permission is required for re-use.</text>
<text transform="translate(179.0 215.8) rotate(-90)" text-anchor="middle" textLength="87" lengthAdjust="spacingAndGlyphs" font-size="8.7" font-weight="700" fill="#222">Overall Survival, %</text>
<clipPath id="lc"><text x="39.5" y="551" textLength="57.0" lengthAdjust="spacingAndGlyphs" font-size="26.2" font-weight="700" >ESMO</text><text x="104.2" y="551" textLength="79.0" lengthAdjust="spacingAndGlyphs" font-size="26.2" font-weight="700" >BREAST</text><text x="190.8" y="551" textLength="81.3" lengthAdjust="spacingAndGlyphs" font-size="26.2" font-weight="700" >CANCER</text></clipPath>
<text x="39.5" y="551" textLength="57.0" lengthAdjust="spacingAndGlyphs" font-size="26.2" font-weight="700" fill="url(#lg)" stroke="url(#lg)" stroke-width="1.5" stroke-linejoin="miter">ESMO</text><text x="104.2" y="551" textLength="79.0" lengthAdjust="spacingAndGlyphs" font-size="26.2" font-weight="700" fill="url(#lg)" stroke="url(#lg)" stroke-width="1.5" stroke-linejoin="miter">BREAST</text><text x="190.8" y="551" textLength="81.3" lengthAdjust="spacingAndGlyphs" font-size="26.2" font-weight="700" fill="url(#lg)" stroke="url(#lg)" stroke-width="1.5" stroke-linejoin="miter">CANCER</text>
<g clip-path="url(#lc)"><polygon points="40,530 51,530 40,543" fill="#ea5490"/><polygon points="68,553 68,541 74,530 79,530 83,545 83,553" fill="#cf62a2"/><polygon points="88,553 97,541 98,553" fill="#d568a4"/><polygon points="104,530 118,530 104,546" fill="#ec6296"/><polygon points="104,545 113,553 104,553" fill="#b07cbc"/><polygon points="121,530 132,530 132,541" fill="#e04f88"/><polygon points="118,545 124.5,545 124.5,553 118,553" fill="#f2789c"/><polygon points="125,544 132,544 132,553 125,553" fill="#9a58a8"/><polygon points="132,541 132,553 144,553 144,536" fill="#a05aa8"/><polygon points="132,530 144,530 132,541" fill="#ea528c"/><polygon points="144,530 159,530 159,553 144,553" fill="#aa62b2"/><polygon points="150,553 159,545 159,553" fill="#8c7cc4"/><polygon points="159,530 171.3,530 171.3,553 159,553" fill="#b066b0"/><polygon points="171.3,530 184,530 184,536.5 171.3,536.5" fill="#c25490"/><polygon points="171.3,536.5 184,536.5 184,553 171.3,553" fill="#e8608e"/><polygon points="191,530 205,530 198,537" fill="#e8588c"/><polygon points="203,553 209.5,530 213,530 208.5,553" fill="#f272a0"/><polygon points="224,539 232,553 225,553" fill="#9a5aa2"/><polygon points="247,547.5 259,547.5 259,553 247,553" fill="#c474b2"/><polygon points="265,530 273,530 273,539" fill="#ea5c8a"/></g>
<path d="M38.9 472.8l4 -4.1l4 4.1l-4 4.1z" fill="#9a4b98"/>
<path d="M38.9 503.9l4 -4.1l4 4.1l-4 4.1z" fill="#9a4b98"/>
</svg>
</body></html>
